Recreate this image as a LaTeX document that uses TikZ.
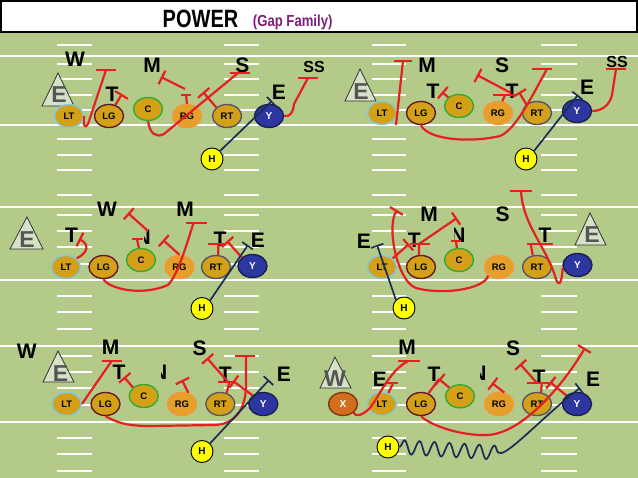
\documentclass[tikz,border=0pt]{standalone}
\usepackage{graphicx}
\usepackage{fontspec}
\setmainfont{Liberation Sans}
\usetikzlibrary{shapes.geometric,arrows.meta,decorations.pathmorphing}
\definecolor{field}{RGB}{180,202,136}
\definecolor{gold}{RGB}{212,160,23}
\definecolor{rggold}{RGB}{228,160,40}
\definecolor{ltblue}{RGB}{130,200,225}
\definecolor{lgmaroon}{RGB}{100,25,45}
\definecolor{cgreen}{RGB}{50,170,50}
\definecolor{rgorange}{RGB}{245,150,60}
\definecolor{rtgray}{RGB}{90,85,100}
\definecolor{ynavy}{RGB}{45,55,160}
\definecolor{yborder}{RGB}{30,30,80}
\definecolor{xorange}{RGB}{210,110,30}
\definecolor{xborder}{RGB}{120,60,20}
\definecolor{hyellow}{RGB}{255,255,0}
\definecolor{rred}{RGB}{228,32,32}
\definecolor{navline}{RGB}{25,45,85}
\definecolor{trifill}{RGB}{214,226,200}
\definecolor{tridraw}{RGB}{50,50,50}
\definecolor{trigray}{RGB}{85,85,85}
\definecolor{gpurple}{RGB}{125,30,125}
\newcommand\HB[3]{\draw[bk] ([xshift=-#2pt]#1) -- ([xshift=#3pt]#1);}
\begin{document}
\begin{tikzpicture}[x=1pt,y=-1pt,
 plbase/.style={ellipse, minimum width=29pt, minimum height=23pt, inner sep=0pt, line width=1.4pt, font=\bfseries\fontsize{9.5}{9.5}\selectfont},
 plLT/.style={plbase, fill=gold, draw=ltblue},
 plLG/.style={plbase, fill=gold, draw=lgmaroon},
 plC/.style={plbase, fill=gold, draw=cgreen},
 plRG/.style={plbase, fill=rggold, draw=rgorange},
 plRT/.style={plbase, fill=gold, draw=rtgray},
 plY/.style={plbase, fill=ynavy, draw=yborder, text=white, font=\bfseries\fontsize{10}{10}\selectfont},
 plX/.style={plbase, fill=xorange, draw=xborder, text=white, font=\bfseries\fontsize{10}{10}\selectfont},
 plH/.style={circle, minimum size=22pt, inner sep=0pt, fill=hyellow, draw=black, line width=0.9pt, font=\bfseries\fontsize{10}{10}\selectfont},
 dlab/.style={font=\bfseries\fontsize{21}{21}\selectfont, inner sep=0pt},
 sslab/.style={font=\bfseries\fontsize{16}{16}\selectfont, inner sep=0pt},
 tri/.style={fill=trifill, draw=tridraw, line width=0.8pt},
 trilab/.style={font=\bfseries\fontsize{23}{23}\selectfont, text=trigray, inner sep=0pt},
 blk/.style={draw=rred, line width=2.2pt},
 tbar/.style={-{Bar[width=15pt]}},
 bk/.style={draw=rred, line width=2.2pt},
 nav/.style={draw=navline, line width=1.7pt},
 tbarN/.style={-{Bar[width=13pt]}},
 yard/.style={draw=white, line width=2.2pt},
 hashm/.style={draw=white, line width=2.2pt}]
\useasboundingbox (0,0) rectangle (638,478);
\fill[field] (0,0) rectangle (638,478);
\foreach \yy in {55.7,125,206.7,280,345.7,421.7} \draw[yard] (0,\yy) -- (638,\yy);
\foreach \xa/\xb in {57/92,224/259,372/406,541/577}
  \foreach \yy in {45,64,79,95,110,139,155,170,195,215,231,247,264,296,312,329,356,372,388,405,438,454,471}
    \draw[hashm] (\xa,\yy) -- (\xb,\yy);
% title
\fill[white] (0,0) rectangle (638,32);
\draw[black, line width=2pt] (1,1) rectangle (637,32);
\node[font=\bfseries\fontsize{25}{25}\selectfont, inner sep=0pt] (title) at (200.5,19) {\scalebox{0.8}[1]{POWER}};
\node[font=\bfseries\fontsize{16}{16}\selectfont, text=gpurple, inner sep=0pt] (sub) at (292.7,22.8) {\scalebox{0.82}[1]{(Gap Family)}};

% ================= PANEL 1
\draw[tri] (58,73) -- (42,106) -- (74,106) -- cycle;
\node[trilab] (tl1) at (59,95) {E};
\node[dlab] (w1) at (75,59) {W};
\node[dlab] (m1) at (152,65) {M};
\node[dlab] (s1) at (242.5,65) {S};
\node[sslab] (ss1) at (314,67) {SS};
\node[dlab] (t1) at (112,94.5) {T};
\node[dlab] (e1) at (279,92.5) {E};
\node[plLT] (lt1) at (69,116) {LT};
\node[plLG] (lg1) at (109,116) {LG};
\node[plC] (c1) at (148,109) {C};
\node[plRG] (rg1) at (187,116) {RG};
\node[plRT] (rt1) at (227,116) {RT};
\node[plY] (y1) at (269,116) {Y};
\node[plH] (h1) at (212,159) {H};
\coordinate (p1a) at (106,70);
\coordinate (p1b) at (122,94);
\coordinate (p1c) at (238,73);
\coordinate (p1d) at (186,95);
\coordinate (p1es) at (185,89);
\coordinate (p1e) at (161,77);
\coordinate (p1f) at (203,92);
\coordinate (p1g) at (308,78);
\coordinate (p1h) at (272,101);
\draw[blk] (lt1.east) .. controls (83,126) and (85,129) .. (88,124) -- (p1a); \HB{p1a}{10}{10}
\draw[blk,tbar] (lg1.60) -- (p1b);
\draw[blk] (c1.south) .. controls (150,134) and (156,138) .. (164,134) -- (p1c); \HB{p1c}{8}{12}
\draw[blk] (rg1.north) -- (p1d); \HB{p1d}{5}{5}
\draw[blk,tbar] (p1es) -- (p1e);
\draw[blk,tbar] (rt1.north west) -- (p1f);
\draw[blk] (y1.east) .. controls (290,117) and (293,113) .. (294,104) -- (p1g); \HB{p1g}{10}{10}
\draw[nav,tbarN] (h1.north east) -- (p1h);

% ================= PANEL 2
\draw[tri] (360,69) -- (345,101) -- (376,101) -- cycle;
\node[trilab] (tl2) at (361,92) {E};
\node[dlab] (m2) at (427,65) {M};
\node[dlab] (s2) at (502,65) {S};
\node[sslab] (ss2) at (617,62) {SS};
\node[dlab] (e2) at (587,87) {E};
\node[dlab] (t2a) at (433,91) {T};
\node[dlab] (t2b) at (512,91) {T};
\node[plLT] (lt2) at (382,113) {LT};
\node[plLG] (lg2) at (421,113) {LG};
\node[plC] (c2) at (459,106) {C};
\node[plRG] (rg2) at (498,113) {RG};
\node[plRT] (rt2) at (537,113) {RT};
\node[plY] (y2) at (577,111) {Y};
\node[plH] (h2) at (526,159) {H};
\coordinate (p2a) at (403,61);
\coordinate (p2b) at (442,92);
\coordinate (p2c) at (547,69);
\coordinate (p2d) at (505,95);
\coordinate (p2es) at (511,93);
\coordinate (p2e) at (477,75);
\coordinate (p2f) at (519,92);
\coordinate (p2g) at (616,69);
\coordinate (p2h) at (578,95);
\draw[blk] (lt2.east) -- (396,125) -- (p2a); \HB{p2a}{9}{9}
\draw[blk,tbar] (c2.north west) -- (p2b);
\draw[blk] (lg2.south) .. controls (428,140) and (470,143) .. (500,136) .. controls (515,130) and (530,100) .. (p2c); \HB{p2c}{15}{5}
\draw[blk] (rg2.70) -- (p2d); \HB{p2d}{12}{12}
\draw[blk,tbar] (p2es) -- (p2e);
\draw[blk,tbar] (rt2.north west) -- (p2f);
\draw[blk] (y2.east) .. controls (603,111) and (610,104) .. (612,95) -- (p2g); \HB{p2g}{10}{10}
\draw[nav,tbarN] (h2.north east) -- (p2h);

% ================= PANEL 3
\draw[tri] (27,217) -- (10,249) -- (43,249) -- cycle;
\node[trilab] (tl3) at (27,240) {E};
\node[dlab] (w3) at (107,209) {W};
\node[dlab] (m3) at (185,209) {M};
\node[dlab] (t3a) at (71.5,235) {T};
\node[dlab] (t3b) at (220,239) {T};
\node[dlab] (e3) at (258,240.5) {E};
\begin{scope}
\clip (144.8,220) rectangle (155,255);
\node[dlab] (n3) at (143.3,237) {N};
\end{scope}
\node[plLT] (lt3) at (66,267) {LT};
\node[plLG] (lg3) at (103.5,267) {LG};
\node[plC] (c3) at (141,260) {C};
\node[plRG] (rg3) at (179.5,267) {RG};
\node[plRT] (rt3) at (216,267) {RT};
\node[plY] (y3) at (252.5,266) {Y};
\node[plH] (h3) at (202,308.5) {H};
\coordinate (p3a) at (79,239);
\coordinate (p3b) at (137,239);
\coordinate (p3cs) at (148,231);
\coordinate (p3c) at (128,213);
\coordinate (p3d) at (163,240);
\coordinate (p3e) at (193.5,223);
\coordinate (p3f) at (218.3,244);
\coordinate (p3g) at (227,241);
\coordinate (p3h) at (248,245);
\draw[blk,tbar] (lt3.north east) .. controls (89,252) and (89,244) .. (p3a);
\draw[blk] (c3.100) -- (p3b); \HB{p3b}{5}{6}
\draw[blk,tbar] (p3cs) -- (p3c);
\draw[blk,tbar] (rg3.north) -- (p3d);
\draw[blk] (lg3.south) .. controls (108,288) and (140,297) .. (168,285) .. controls (178,275) and (188,240) .. (p3e); \HB{p3e}{8}{13}
\draw[blk] (rt3.80) -- (p3f); \HB{p3f}{10}{8}
\draw[blk,tbar] (y3.north west) -- (p3g);
\draw[nav,tbarN] (h3.north east) -- (p3h);

% ================= PANEL 4
\draw[tri] (590,213) -- (575,245) -- (606,245) -- cycle;
\node[trilab] (tl4) at (592,235) {E};
\node[dlab] (m4) at (429,214) {M};
\node[dlab] (s4) at (502.7,214.3) {S};
\node[dlab] (e4) at (364,241) {E};
\node[dlab] (t4a) at (414.3,240.3) {T};
\node[dlab] (t4b) at (545,235) {T};
\begin{scope}
\clip (454,218) rectangle (470,252);
\node[dlab] (n4) at (458,235) {N};
\end{scope}
\node[plLT] (lt4) at (382,267) {LT};
\node[plLG] (lg4) at (421,267) {LG};
\node[plC] (c4) at (459,260) {C};
\node[plRG] (rg4) at (499,267) {RG};
\node[plRT] (rt4) at (537,267) {RT};
\node[plY] (y4) at (577.5,265) {Y};
\node[plH] (h4) at (404,308) {H};
\coordinate (p4a) at (397,210);
\coordinate (p4b) at (409,244);
\coordinate (p4c) at (419,244);
\coordinate (p4d) at (457,218);
\coordinate (p4e) at (456,241);
\coordinate (p4f) at (530.7,244);
\coordinate (p4g) at (521,191);
\coordinate (p4h) at (377,245);
\draw[blk,tbar] (rg4.south west) .. controls (484,290) and (440,295) .. (416,288) .. controls (398,282) and (386,228) .. (p4a);
\draw[blk,tbar] (lt4.north east) -- (p4b);
\draw[blk] (lg4.100) -- (p4c); \HB{p4c}{9}{11}
\draw[blk,tbar] (p4c) -- (p4d);
\draw[blk] (c4.100) -- (p4e); \HB{p4e}{5}{5}
\draw[blk] (rt4.110) -- (p4f); \HB{p4f}{4}{22}
\draw[blk] (y4.190) .. controls (562,285) and (558,288) .. (555,276) .. controls (545,245) and (523,225) .. (p4g); \HB{p4g}{11}{11}
\draw[nav,tbarN] (h4.north west) -- (p4h);

% ================= PANEL 5
\draw[tri] (58,351) -- (43,382) -- (74,382) -- cycle;
\node[trilab] (tl5) at (60.5,373.8) {E};
\node[dlab] (w5) at (26.7,351.7) {W};
\node[dlab] (m5) at (110.5,347.5) {M};
\node[dlab] (s5) at (199.7,348) {S};
\node[dlab] (t5a) at (119,372.5) {T};
\node[dlab] (t5b) at (225.3,373.8) {T};
\node[dlab] (e5) at (284,373.8) {E};
\begin{scope}
\clip (161,355) rectangle (172,390);
\node[dlab] (n5) at (159.7,372.5) {N};
\end{scope}
\node[plLT] (lt5) at (66.7,404) {LT};
\node[plLG] (lg5) at (105.5,404) {LG};
\node[plC] (c5) at (143.7,396) {C};
\node[plRG] (rg5) at (182,404) {RG};
\node[plRT] (rt5) at (220.3,404) {RT};
\node[plY] (y5) at (263.3,404) {Y};
\node[plH] (h5) at (202,451.5) {H};
\coordinate (p5a) at (111.7,361);
\coordinate (p5b) at (124,377);
\coordinate (p5c) at (182,380);
\coordinate (p5d) at (246,356);
\coordinate (p5e) at (229.3,382);
\coordinate (p5fs) at (228,382);
\coordinate (p5f) at (207,358);
\coordinate (p5g) at (233,381);
\coordinate (p5h) at (269,380);
\draw[blk] (lt5.east) -- (p5a); \HB{p5a}{10}{10}
\draw[blk,tbar] (c5.north west) -- (p5b);
\draw[blk,tbar] (rg5.60) -- (p5c);
\draw[blk] (lg5.south) .. controls (116,422) and (125,426) .. (150,426) -- (215,425) .. controls (238,424) and (246,405) .. (246,385) -- (p5d); \HB{p5d}{11}{9}
\draw[blk] (rt5.60) -- (p5e); \HB{p5e}{11}{4}
\draw[blk,tbar] (p5fs) -- (p5f);
\draw[blk,tbar] (y5.north west) -- (p5g);
\draw[nav,tbarN] (h5.north east) -- (p5h);

% ================= PANEL 6
\draw[tri] (335,357) -- (320,388) -- (351,388) -- cycle;
\node[trilab] (tl6) at (335,378.3) {W};
\node[dlab] (m6) at (407,347.5) {M};
\node[dlab] (s6) at (513,348) {S};
\node[dlab] (e6a) at (380,379) {E};
\node[dlab] (t6a) at (434,374) {T};
\node[dlab] (t6b) at (539,377) {T};
\node[dlab] (e6b) at (593,379) {E};
\begin{scope}
\clip (480.5,355) rectangle (492,390);
\node[dlab] (n6) at (479,373) {N};
\end{scope}
\node[plX] (x6) at (343,404) {X};
\node[plLT] (lt6) at (382,404) {LT};
\node[plLG] (lg6) at (421,404) {LG};
\node[plC] (c6) at (460,396.3) {C};
\node[plRG] (rg6) at (499,404) {RG};
\node[plRT] (rt6) at (537,404) {RT};
\node[plY] (y6) at (577,404) {Y};
\node[plH] (h6) at (388,447) {H};
\coordinate (p6a) at (408.3,361);
\coordinate (p6b) at (393.3,383);
\coordinate (p6c) at (439,379);
\coordinate (p6d) at (492,383);
\coordinate (p6e) at (585,348);
\coordinate (p6f) at (541.7,383);
\coordinate (p6gs) at (537,383);
\coordinate (p6g) at (520,364);
\coordinate (p6h) at (550,382);
\coordinate (p6w) at (502,453);
\coordinate (p6i) at (580,388);
\draw[blk] (x6.south east) .. controls (355,417) and (362,416) .. (370,408) .. controls (380,395) and (390,370) .. (p6a); \HB{p6a}{10}{12}
\draw[blk] (lt6.60) -- (p6b); \HB{p6b}{8}{5}
\draw[blk] (lg6.55) -- (p6c);
\draw[blk,tbar] (c6.north west) -- (p6c);
\draw[blk,tbar] (rg6.65) -- (p6d);
\draw[blk,tbar] (lg6.south) .. controls (430,425) and (460,436) .. (487,435) .. controls (520,434) and (560,390) .. (p6e);
\draw[blk] (rt6.70) -- (p6f); \HB{p6f}{15}{11}
\draw[blk,tbar] (p6gs) -- (p6g);
\draw[blk,tbar] (y6.north west) -- (p6h);
\draw[nav, decorate, decoration={snake, segment length=15pt, amplitude=7pt}] (h6.east) -- (p6w);
\draw[nav,tbarN] (p6w) .. controls (515,448) and (545,415) .. (p6i);
\end{tikzpicture}
\end{document}
